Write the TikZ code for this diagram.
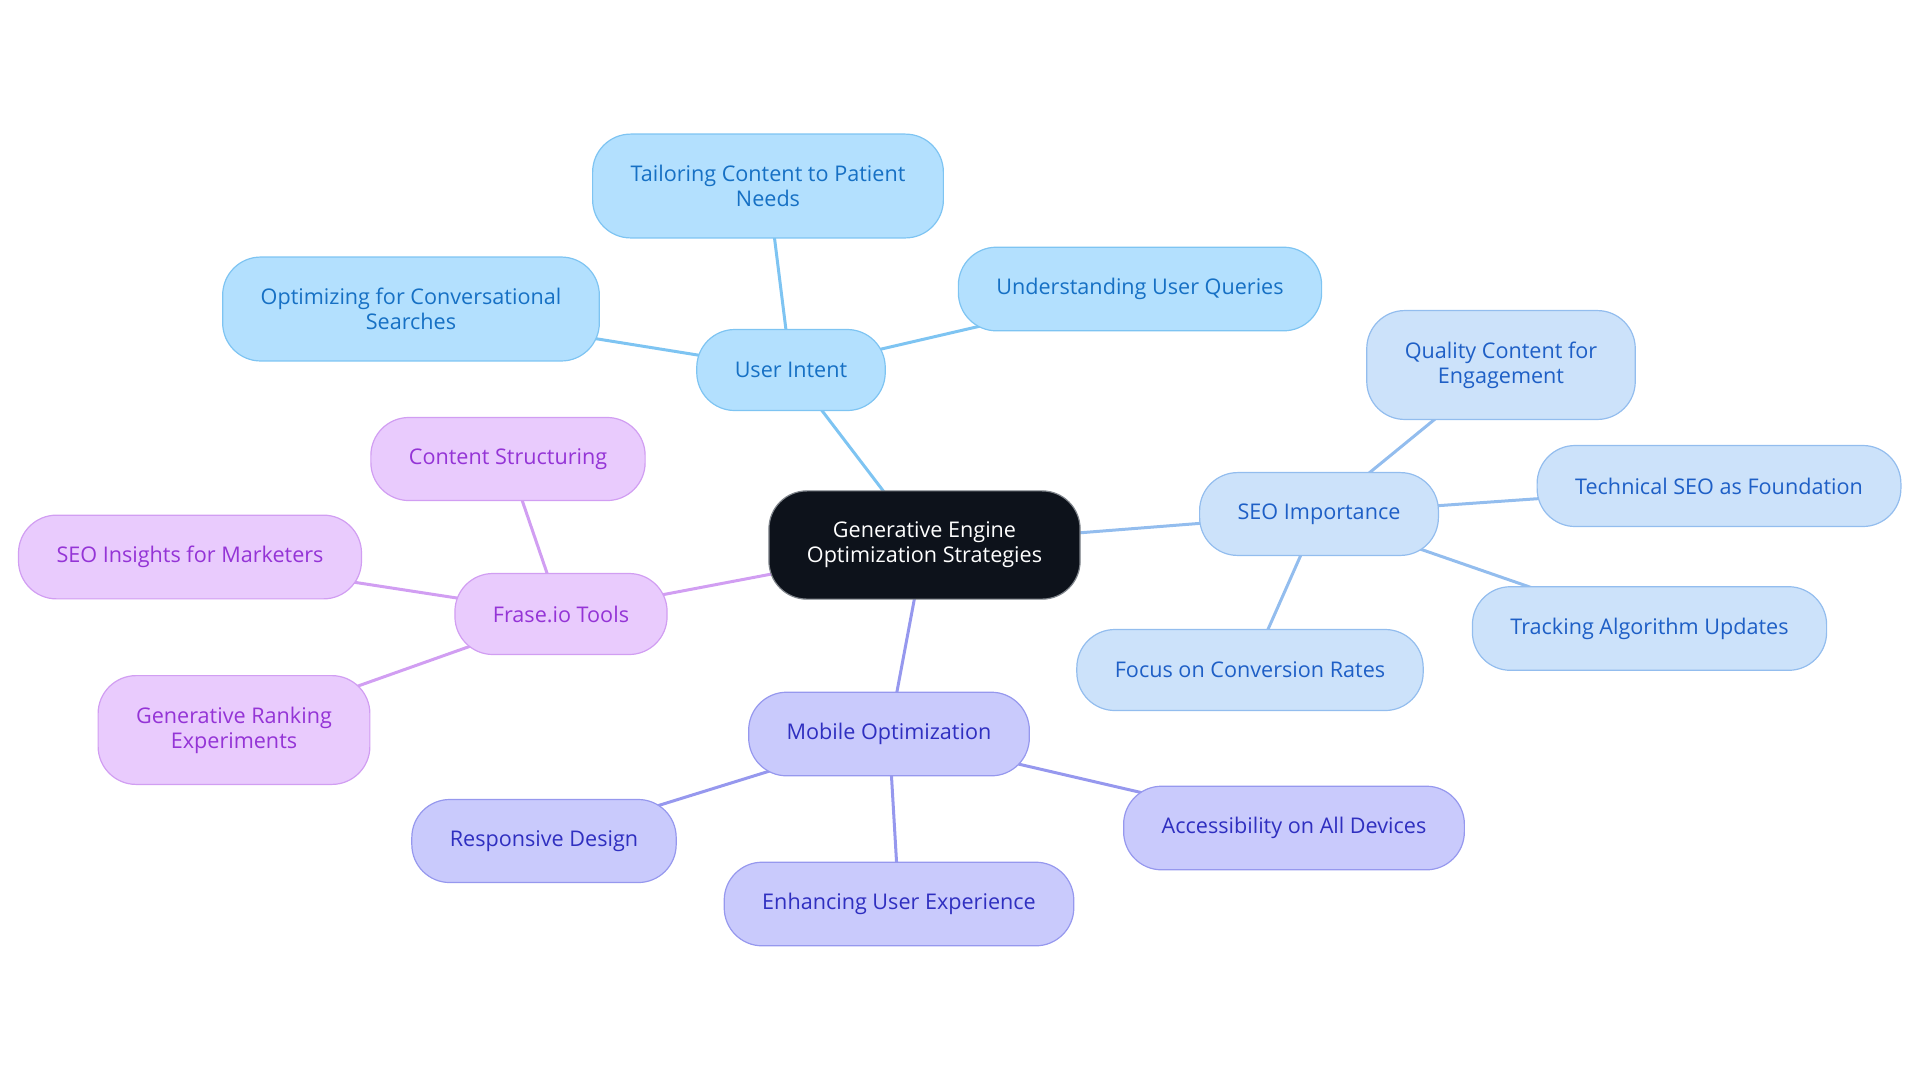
\documentclass[tikz,border=0pt]{standalone}
\usepackage{fontspec}
\setmainfont{Open Sans}
\usetikzlibrary{backgrounds}

\definecolor{rootfill}{HTML}{0D121B}
\definecolor{rootdraw}{HTML}{80858C}
\definecolor{intentfill}{HTML}{B3E0FE}
\definecolor{intentdraw}{HTML}{7EC4F2}
\definecolor{intenttext}{HTML}{1670C4}
\definecolor{seofill}{HTML}{CCE2FA}
\definecolor{seodraw}{HTML}{93BDEE}
\definecolor{seotext}{HTML}{1E5FC6}
\definecolor{mobfill}{HTML}{C9CAFC}
\definecolor{mobdraw}{HTML}{9698EE}
\definecolor{mobtext}{HTML}{2F2FC0}
\definecolor{frasefill}{HTML}{E9CBFD}
\definecolor{frasedraw}{HTML}{D19EF2}
\definecolor{frasetext}{HTML}{9434D6}

\tikzset{
    box/.style={rounded corners=19pt, minimum height=40.5pt, inner xsep=19pt, inner ysep=15.5pt,
        align=center, line width=0.6pt, font=\fontsize{10.8}{12.6}\selectfont},
    root/.style={box, fill=rootfill, draw=rootdraw, text=white},
    intent/.style={box, fill=intentfill, draw=intentdraw, text=intenttext},
    seo/.style={box, fill=seofill, draw=seodraw, text=seotext},
    mob/.style={box, fill=mobfill, draw=mobdraw, text=mobtext},
    frase/.style={box, fill=frasefill, draw=frasedraw, text=frasetext},
    link/.style={line width=1.5pt}
}

\begin{document}
\begin{tikzpicture}[x=0.5pt, y=-0.5pt]

    \useasboundingbox (0,0) rectangle (1920,1083);

    % Центр
    \node[root] (gen) at (924.5,545) {Generative Engine\\Optimization Strategies};

    % User Intent
    \node[intent] (intent) at (791,370) {User Intent};
    \node[intent] (tailor) at (768,186) {Tailoring Content to Patient\\Needs};
    \node[intent] (convers) at (411,309) {Optimizing for Conversational\\Searches};
    \node[intent] (queries) at (1140,289) {Understanding User Queries};

    % SEO Importance
    \node[seo] (seo) at (1319,514) {SEO Importance};
    \node[seo] (quality) at (1501,365) {Quality Content for\\Engagement};
    \node[seo] (technical) at (1719,486) {Technical SEO as Foundation};
    \node[seo] (tracking) at (1649.5,628.5) {Tracking Algorithm Updates};
    \node[seo] (conversion) at (1250,670) {Focus on Conversion Rates};

    % Mobile Optimization
    \node[mob] (mobile) at (889,734) {Mobile Optimization};
    \node[mob] (responsive) at (544,841) {Responsive Design};
    \node[mob] (experience) at (899,904) {Enhancing User Experience};
    \node[mob] (access) at (1294,828) {Accessibility on All Devices};

    % Frase.io Tools
    \node[frase] (frase) at (561,614) {Frase.io Tools};
    \node[frase] (structuring) at (508,459) {Content Structuring};
    \node[frase] (insights) at (190,557) {SEO Insights for Marketers};
    \node[frase] (ranking) at (234,730) {Generative Ranking\\Experiments};

    % Связи
    \begin{scope}[on background layer]
        \foreach \a/\b/\c in {gen/intent/intentdraw, intent/tailor/intentdraw,
                intent/convers/intentdraw, intent/queries/intentdraw,
                gen/seo/seodraw, seo/quality/seodraw, seo/technical/seodraw,
                seo/tracking/seodraw, seo/conversion/seodraw,
                gen/mobile/mobdraw, mobile/responsive/mobdraw,
                mobile/experience/mobdraw, mobile/access/mobdraw,
                gen/frase/frasedraw, frase/structuring/frasedraw,
                frase/insights/frasedraw, frase/ranking/frasedraw}
            \draw[link, \c] (\a.center) -- (\b.center);
    \end{scope}

\end{tikzpicture}
\end{document}
